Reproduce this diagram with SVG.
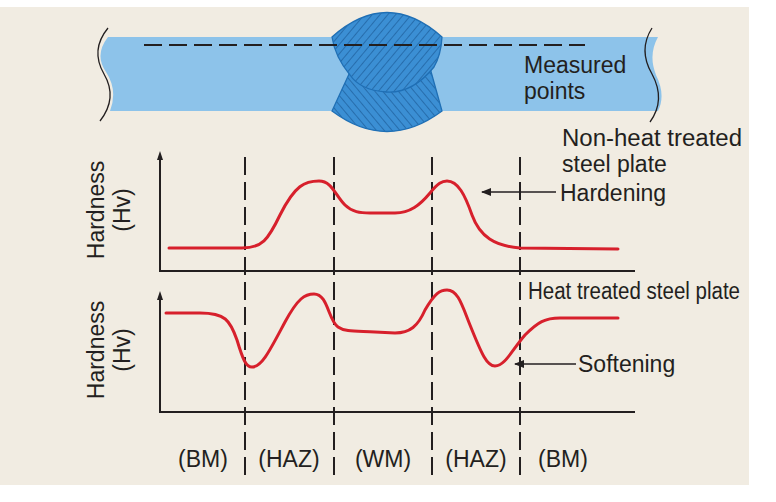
<svg xmlns="http://www.w3.org/2000/svg" width="776" height="502" viewBox="0 0 776 502">
<style>
text{font-family:"Liberation Sans",Arial,sans-serif;fill:#231f20;font-size:23px}
.ax{stroke:#231f20;stroke-width:2;fill:none}
.dash{stroke:#231f20;stroke-width:2;stroke-dasharray:18,7;fill:none}
.curve{stroke:#d7202c;stroke-width:3;fill:none;stroke-linecap:round}
.sq{stroke:#231f20;stroke-width:1.3;fill:none}
</style>
<defs>
<pattern id="h1" width="6" height="6" patternUnits="userSpaceOnUse" patternTransform="rotate(40)"><rect width="6" height="6" fill="#3b8fd4"/><line x1="0" y1="0" x2="0" y2="6" stroke="#1c5a96" stroke-width="1.3"/></pattern>
<pattern id="h2" width="6" height="6" patternUnits="userSpaceOnUse" patternTransform="rotate(-40)"><rect width="6" height="6" fill="#3b8fd4"/><line x1="0" y1="0" x2="0" y2="6" stroke="#1c5a96" stroke-width="1.3"/></pattern>
<marker id="ar" markerWidth="10" markerHeight="8" refX="9" refY="4" orient="auto" markerUnits="userSpaceOnUse"><path d="M0,0 L10,4 L0,8 Z" fill="#231f20"/></marker>
</defs>
<rect x="0" y="7" width="749" height="478" fill="#f1ece2"/>
<g id="plate">
<path d="M108,37 L658,37 Q648,55 656,75 Q666,95 658,111 L110,111 Q118,90 106,72 Q94,55 108,37 Z" fill="#8dc3ea"/>
<path class="sq" d="M108,28 Q90,50 104,74 Q118,98 100,121"/>
<path class="sq" d="M652,28 Q638,50 652,74 Q666,100 650,122"/>
<path d="M350,72 L332,111 Q387,152 442,111 L430,68 Z" fill="url(#h2)" stroke="#1f6fb5" stroke-width="1.3"/>
<path d="M332,37 Q387,-12 442,37 Q441,55 434,67 Q412,94 386,92 Q360,90 350,75 Q335,57 332,37 Z" fill="url(#h1)" stroke="#1f6fb5" stroke-width="1.3"/>
<line x1="144" y1="45" x2="585" y2="45" class="dash" stroke-dasharray="13,8"/>
<text x="524" y="73">Measured</text>
<text x="524" y="99">points</text>
</g>
<g id="axes">
<path class="ax" d="M160,157 L160,271 L635,271"/>
<path d="M157,160 L160,151 L163,160 Z" fill="#231f20"/>
<path class="ax" d="M160,297 L160,412 L635,412"/>
<path d="M157,300 L160,291 L163,300 Z" fill="#231f20"/>
<text transform="translate(104,210) rotate(-90)" text-anchor="middle" font-size="24">Hardness</text>
<text transform="translate(130,210) rotate(-90)" text-anchor="middle" font-size="24">(Hv)</text>
<text transform="translate(104,350) rotate(-90)" text-anchor="middle" font-size="24">Hardness</text>
<text transform="translate(130,350) rotate(-90)" text-anchor="middle" font-size="24">(Hv)</text>
</g>
<g id="connectors">
<line class="dash" x1="245" y1="157" x2="245" y2="477"/>
<line class="dash" x1="334" y1="157" x2="334" y2="477"/>
<line class="dash" x1="432" y1="157" x2="432" y2="477"/>
<line class="dash" x1="520" y1="157" x2="520" y2="477"/>
<line x1="556" y1="192" x2="482" y2="192" stroke="#231f20" stroke-width="1.5" marker-end="url(#ar)"/>
<line x1="576" y1="364" x2="515" y2="364" stroke="#231f20" stroke-width="1.5" marker-end="url(#ar)"/>
</g>
<g id="curves">
<path class="curve" d="M169,248 L242,248 C262,248 268,240 280,215 C295,185 305,181 319,181 C332,181 335,195 345,205 C352,212 360,213 370,213 L395,213 C410,213 420,205 430,193 C438,183 442,181 447,181 C458,181 465,195 472,215 C480,237 495,246 520,248 L618,249"/>
<path class="curve" d="M166,313 L200,313 C225,313 230,320 237,340 C243,360 246,367 252,367 C262,367 270,350 285,322 C298,298 305,294 314,294 C328,294 328,320 338,327 C345,332 355,331 375,332 L395,333 C410,333 418,326 425,310 C435,293 440,290 447,290 C458,290 462,305 470,325 C482,355 487,366 495,366 C505,366 512,350 525,335 C538,322 545,318 560,318 L618,318"/>
</g>
<g id="labels">
<text x="562" y="146" textLength="180" lengthAdjust="spacingAndGlyphs">Non-heat treated</text>
<text x="562" y="172">steel plate</text>
<text x="560" y="201">Hardening</text>
<text x="528" y="299" font-size="19" textLength="212" lengthAdjust="spacingAndGlyphs">Heat treated steel plate</text>
<text x="578" y="372">Softening</text>
<text x="203" y="467" text-anchor="middle" font-size="22">(BM)</text>
<text x="289" y="467" text-anchor="middle" font-size="22">(HAZ)</text>
<text x="383" y="467" text-anchor="middle" font-size="22">(WM)</text>
<text x="476" y="467" text-anchor="middle" font-size="22">(HAZ)</text>
<text x="563" y="467" text-anchor="middle" font-size="22">(BM)</text>
</g>
</svg>
